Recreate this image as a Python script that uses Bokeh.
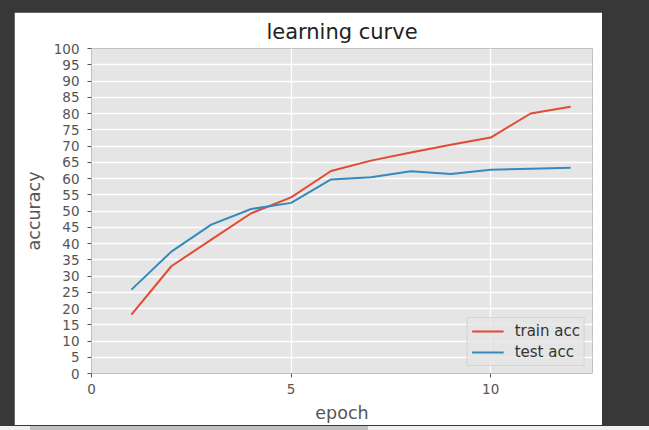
from bokeh.plotting import figure
from bokeh.embed import file_html
from bokeh.resources import INLINE
from bokeh.models import (Range1d, FixedTicker, Legend, LegendItem,
                          GlobalInlineStyleSheet)

# values
epochs = [1, 2, 3, 4, 5, 6, 7, 8, 9, 10, 11, 12]
train_acc = [18.1, 33.0, 41.2, 49.3, 54.2, 62.3, 65.5, 68.0, 70.4, 72.6, 80.0, 82.1]
test_acc = [25.8, 37.5, 45.8, 50.6, 52.5, 59.7, 60.4, 62.2, 61.4, 62.7, 63.0, 63.3]
x_ticks = [0, 5, 10]
y_ticks = list(range(0, 101, 5))

FONT = "DejaVu Sans"
GREY = "#555555"

p = figure(width=588, height=413, output_backend="svg", toolbar_location=None,
           x_range=Range1d(0, 12.55), y_range=Range1d(0, 100),
           title="learning curve", x_axis_label="epoch", y_axis_label="accuracy")

# page look: dark notebook surround, white figure panel
p.stylesheets = [GlobalInlineStyleSheet(css="""
body { background: #383838; margin: 12px 0 0 14px; }
body::after { content: ""; position: fixed; left: 0; right: 0; bottom: 0; height: 4px;
  background: linear-gradient(to right, #f0f0f0 30px, #c1c1c1 30px, #c1c1c1 368px, #f0f0f0 368px); }
""")]

p.min_border_left = 77
p.min_border_right = 10
p.min_border_top = 36
p.min_border_bottom = 52
p.border_fill_color = "white"
p.background_fill_color = "#E5E5E5"
p.outline_line_color = None

p.title.align = "center"
p.title.text_font = FONT
p.title.text_font_size = "21px"
p.title.text_font_style = "normal"
p.title.text_color = "#222222"

for ax in (p.xaxis[0], p.yaxis[0]):
    ax.axis_line_color = None
    ax.major_tick_in = 0
    ax.major_tick_out = 4
    ax.major_tick_line_color = GREY
    ax.minor_tick_line_color = None
    ax.major_label_text_font = FONT
    ax.major_label_text_font_size = "13.5px"
    ax.major_label_text_color = GREY
    ax.axis_label_text_font = FONT
    ax.axis_label_text_font_size = "17.5px"
    ax.axis_label_text_font_style = "normal"
    ax.axis_label_text_color = GREY

p.xaxis.ticker = FixedTicker(ticks=x_ticks)
p.yaxis.ticker = FixedTicker(ticks=y_ticks)
p.xaxis.major_label_standoff = 6
p.yaxis.major_label_standoff = 8
p.xaxis.axis_label_standoff = 6
p.yaxis.axis_label_standoff = 7

p.grid.grid_line_color = "white"
p.grid.grid_line_width = 1.3

r_train = p.line(epochs, train_acc, line_color="#E24A33", line_width=2)
r_test = p.line(epochs, test_acc, line_color="#348ABD", line_width=2)

legend = Legend(items=[LegendItem(label="train acc", renderers=[r_train]),
                       LegendItem(label="test acc", renderers=[r_test])],
                location="bottom_right")
legend.background_fill_color = "#E5E5E5"
legend.background_fill_alpha = 0.8
legend.border_line_color = "#D0D0D0"
legend.border_line_alpha = 0.8
legend.label_text_font = FONT
legend.label_text_font_size = "15px"
legend.label_text_color = "#333333"
legend.glyph_width = 32
legend.glyph_height = 18
legend.label_height = 18
legend.label_standoff = 11
legend.padding = 4
legend.spacing = 3
legend.margin = 7
p.add_layout(legend)

open("out.html", "w").write(file_html(p, INLINE))
